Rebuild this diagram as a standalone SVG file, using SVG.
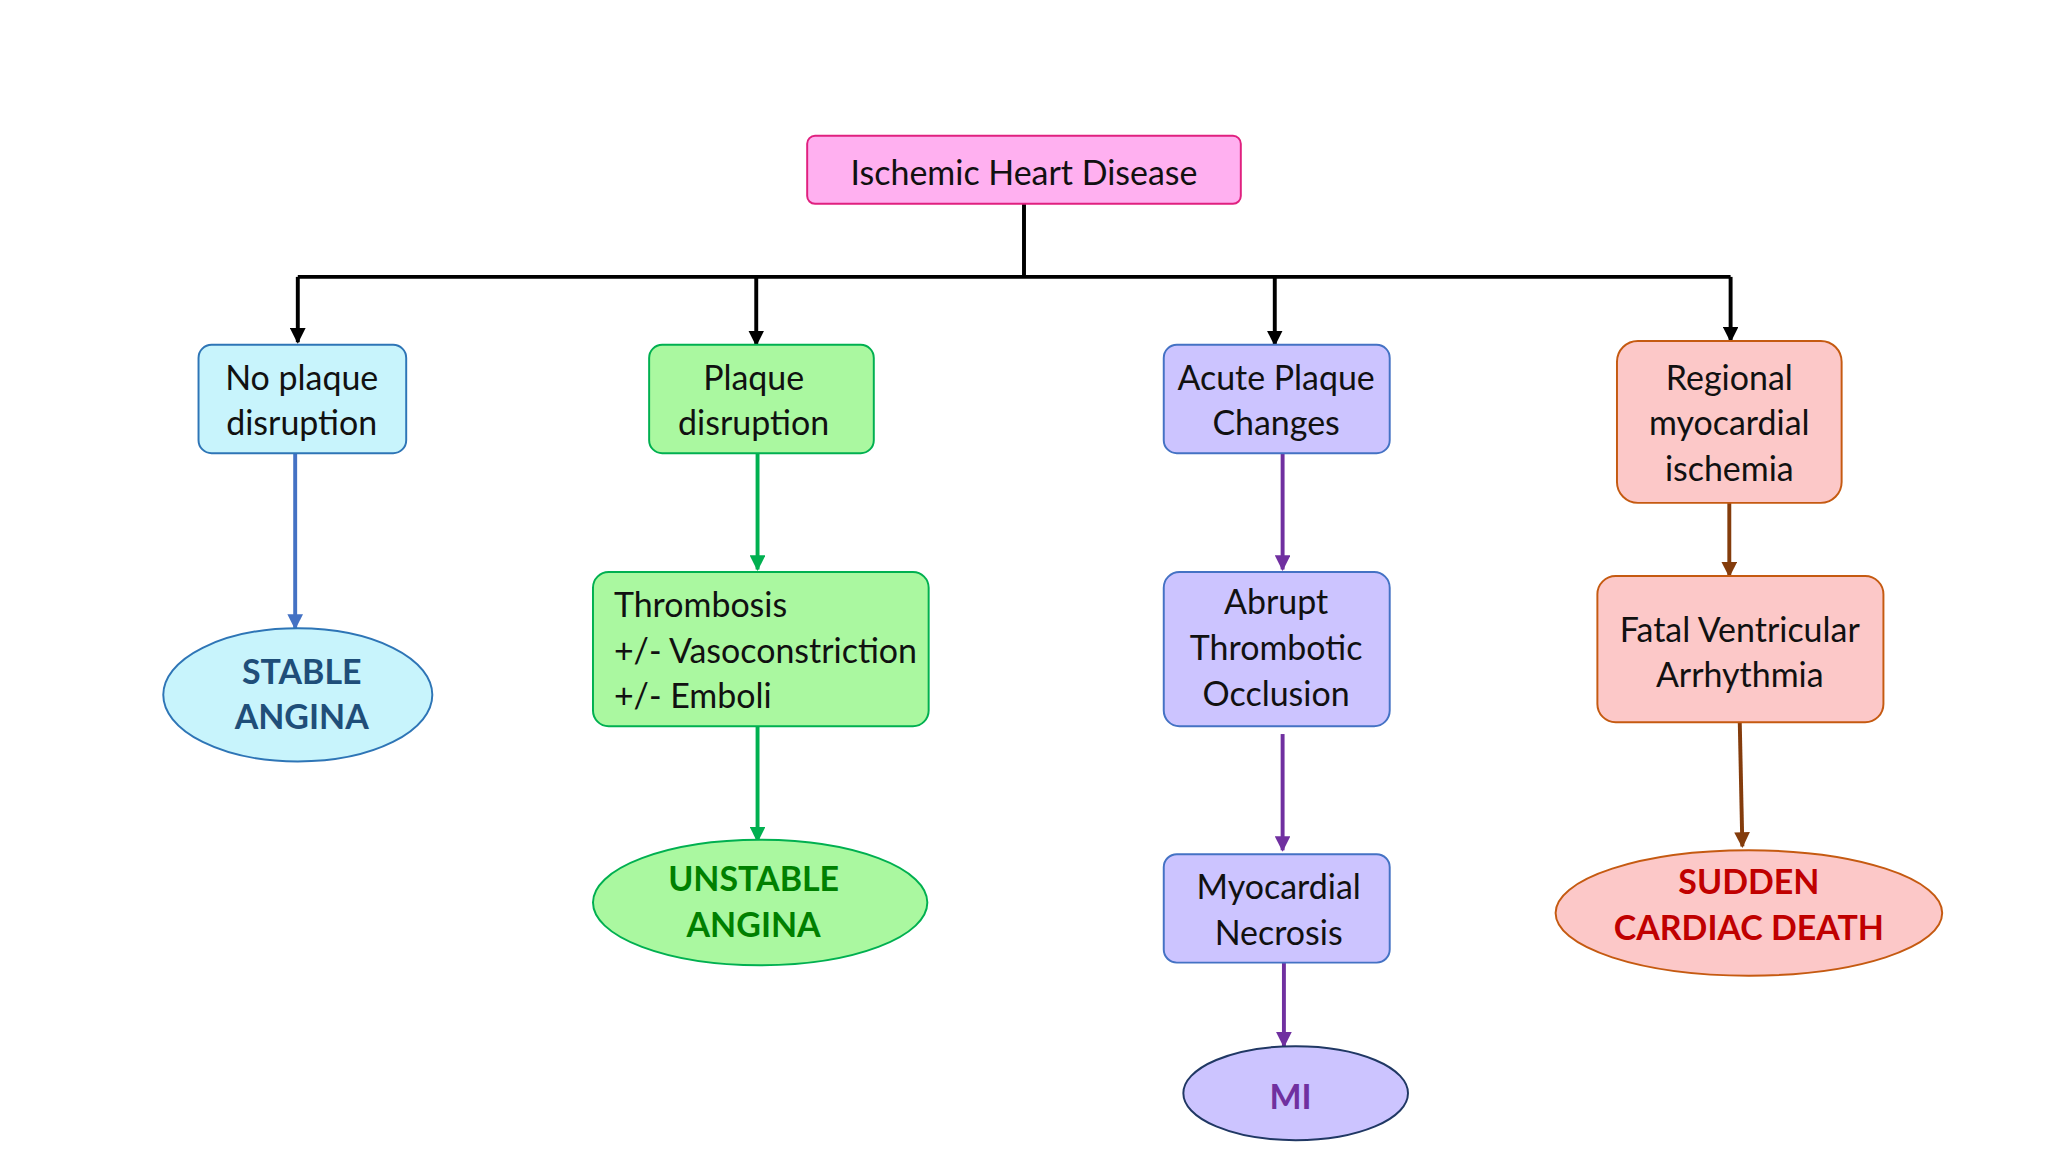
<svg xmlns="http://www.w3.org/2000/svg" width="2048" height="1152" viewBox="0 0 2048 1152">
<defs>
<style>
text{font-family:Lato,"Open Sans","Liberation Sans",sans-serif;font-size:26px;fill:#111;text-anchor:middle;dominant-baseline:central}
.b{font-weight:bold}
.bl{fill:#c8f4fc;stroke:#2e75b6;stroke-width:1.5}
.gr{fill:#aaf8a0;stroke:#00b050;stroke-width:1.5}
.pu{fill:#ccc4ff;stroke:#4472c4;stroke-width:1.5}
.rd{fill:#fcc8c8;stroke:#c55a11;stroke-width:1.5}
.c{fill:none;stroke-width:3}
</style>
<marker id="mk" viewBox="0 0 10 10" refX="9" refY="5" markerWidth="4" markerHeight="4" orient="auto"><path d="M0,0L10,5L0,10z" fill="context-stroke"/></marker>
<marker id="k" viewBox="0 0 10 10" refX="9" refY="5" markerWidth="4" markerHeight="4" orient="auto"><path d="M0,0L10,5L0,10z" fill="#000"/></marker>
<marker id="mb" viewBox="0 0 10 10" refX="9" refY="5" markerWidth="4" markerHeight="4" orient="auto"><path d="M0,0L10,5L0,10z" fill="#4472c4"/></marker>
<marker id="mg" viewBox="0 0 10 10" refX="9" refY="5" markerWidth="4" markerHeight="4" orient="auto"><path d="M0,0L10,5L0,10z" fill="#00b050"/></marker>
<marker id="mp" viewBox="0 0 10 10" refX="9" refY="5" markerWidth="4" markerHeight="4" orient="auto"><path d="M0,0L10,5L0,10z" fill="#7030a0"/></marker>
<marker id="mr" viewBox="0 0 10 10" refX="9" refY="5" markerWidth="4" markerHeight="4" orient="auto"><path d="M0,0L10,5L0,10z" fill="#843c0c"/></marker>
</defs>
<rect width="2048" height="1152" fill="#fff"/>
<g transform="scale(1.30612)">
<g id="connectors">
<path class="c" stroke="#000" d="M784,156V212M228,212H1325"/>
<path class="c" stroke="#000" marker-end="url(#k)" d="M228,212V262"/>
<path class="c" stroke="#000" marker-end="url(#k)" d="M579,212V264"/>
<path class="c" stroke="#000" marker-end="url(#k)" d="M976,212V264"/>
<path class="c" stroke="#000" marker-end="url(#k)" d="M1325,212V261"/>
<path class="c" stroke="#4472c4" marker-end="url(#mb)" d="M226,347V481"/>
<path class="c" stroke="#00b050" marker-end="url(#mg)" d="M580,347V436"/>
<path class="c" stroke="#00b050" marker-end="url(#mg)" d="M580,556V644"/>
<path class="c" stroke="#7030a0" marker-end="url(#mp)" d="M982,347V436"/>
<path class="c" stroke="#7030a0" marker-end="url(#mp)" d="M982,562V651"/>
<path class="c" stroke="#7030a0" marker-end="url(#mp)" d="M983,737V801"/>
<path class="c" stroke="#843c0c" marker-end="url(#mr)" d="M1324,385V441"/>
<path class="c" stroke="#843c0c" marker-end="url(#mr)" d="M1332,553L1334,648"/>
</g>
<g id="root"><rect x="618" y="104" width="332" height="52" rx="6" fill="#ffb0f0" stroke="#e0207f" stroke-width="1.5"/><text x="784" y="131">Ischemic Heart Disease</text></g>
<g id="a1"><rect class="bl" x="152" y="264" width="159" height="83" rx="10"/><text x="231" y="288">No plaque</text><text x="231" y="323">disruption</text></g>
<g id="a2"><ellipse class="bl" cx="228" cy="532" rx="103" ry="51"/><text class="b" x="231" y="513" fill="#1f4e79" style="fill:#1f4e79">STABLE</text><text class="b" x="231" y="548" style="fill:#1f4e79">ANGINA</text></g>
<g id="b1"><rect class="gr" x="497" y="264" width="172" height="83" rx="10"/><text x="577" y="288">Plaque</text><text x="577" y="323">disruption</text></g>
<g id="b2"><rect class="gr" x="454" y="438" width="257" height="118" rx="12"/><text x="470" y="462" style="text-anchor:start">Thrombosis</text><text x="470" y="497" style="text-anchor:start">+/- Vasoconstriction</text><text x="470" y="532" style="text-anchor:start">+/- Emboli</text></g>
<g id="b3"><ellipse class="gr" cx="582" cy="691" rx="128" ry="48"/><text class="b" x="577" y="672" style="fill:#008000">UNSTABLE</text><text class="b" x="577" y="707" style="fill:#008000">ANGINA</text></g>
<g id="c1"><rect class="pu" x="891" y="264" width="173" height="83" rx="10"/><text x="977" y="288">Acute Plaque</text><text x="977" y="323">Changes</text></g>
<g id="c2"><rect class="pu" x="891" y="438" width="173" height="118" rx="12"/><text x="977" y="460">Abrupt</text><text x="977" y="495">Thrombotic</text><text x="977" y="530">Occlusion</text></g>
<g id="c3"><rect class="pu" x="891" y="654" width="173" height="83" rx="10"/><text x="979" y="678">Myocardial</text><text x="979" y="713">Necrosis</text></g>
<g id="c4"><ellipse class="pu" cx="992" cy="837" rx="86" ry="36" style="stroke:#203864"/><text class="b" x="988" y="839" style="fill:#7030a0">MI</text></g>
<g id="d1"><rect class="rd" x="1238" y="261" width="172" height="124" rx="16"/><text x="1324" y="288">Regional</text><text x="1324" y="323">myocardial</text><text x="1324" y="358">ischemia</text></g>
<g id="d2"><rect class="rd" x="1223" y="441" width="219" height="112" rx="14"/><text x="1332" y="481">Fatal Ventricular</text><text x="1332" y="516">Arrhythmia</text></g>
<g id="d3"><ellipse class="rd" cx="1339" cy="699" rx="148" ry="48"/><text class="b" x="1339" y="674" style="fill:#c00000">SUDDEN</text><text class="b" x="1339" y="709" style="fill:#c00000">CARDIAC DEATH</text></g>
</g>
</svg>
